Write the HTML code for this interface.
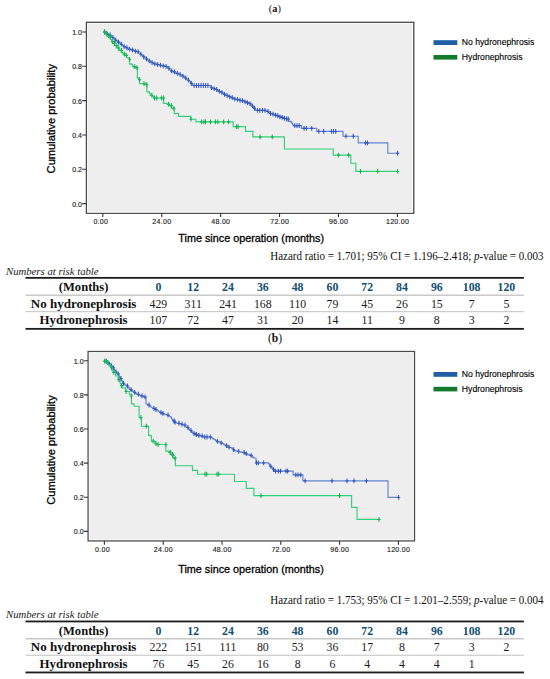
<!DOCTYPE html>
<html><head><meta charset="utf-8"><title>Kaplan-Meier</title>
<style>
html,body{margin:0;padding:0;background:#fff;}
body{width:550px;height:679px;overflow:hidden;position:relative;}
svg{position:absolute;left:0;top:0;}
.tk{font-family:"Liberation Sans",sans-serif;font-size:7px;fill:#1e1e1e;letter-spacing:0.3px;stroke:#1e1e1e;stroke-width:0.15px;}
.at{font-family:"Liberation Sans",sans-serif;font-size:10.7px;fill:#000;stroke:#000;stroke-width:0.28px;}
.lg{font-family:"Liberation Sans",sans-serif;font-size:8.2px;fill:#000;stroke:#000;stroke-width:0.12px;}
.ti{font-family:"Liberation Serif",serif;fill:#111;}
.hz{font-family:"Liberation Serif",serif;font-size:11.5px;fill:#111;}
.nr{font-family:"Liberation Serif",serif;font-size:10.6px;font-style:italic;fill:#222;}
.tl{font-family:"Liberation Serif",serif;font-size:11.6px;font-weight:bold;fill:#111;}
.th{font-family:"Liberation Serif",serif;font-size:11.8px;font-weight:bold;fill:#13506f;}
.td{font-family:"Liberation Serif",serif;font-size:11.8px;fill:#1a1a1a;}
</style></head><body>
<svg width="550" height="679" viewBox="0 0 550 679">
<text x="274.85" y="12.1" class="ti" font-size="10.4" text-anchor="middle">(<tspan font-weight="bold">a</tspan>)</text>
<rect x="86.40" y="22.30" width="327.40" height="191.00" fill="#eeeeee" stroke="#4a4a4a" stroke-width="1.3"/>
<rect x="87.60" y="23.50" width="325.00" height="188.60" fill="none" stroke="#fafafa" stroke-width="0.8"/>
<text x="81.90" y="35.00" class="tk" text-anchor="end" style="letter-spacing:0">1.0</text>
<text x="81.90" y="69.32" class="tk" text-anchor="end" style="letter-spacing:0">0.8</text>
<text x="81.90" y="103.64" class="tk" text-anchor="end" style="letter-spacing:0">0.6</text>
<text x="81.90" y="137.96" class="tk" text-anchor="end" style="letter-spacing:0">0.4</text>
<text x="81.90" y="172.28" class="tk" text-anchor="end" style="letter-spacing:0">0.2</text>
<text x="81.90" y="206.60" class="tk" text-anchor="end" style="letter-spacing:0">0.0</text>
<text x="100.85" y="223.90" class="tk" text-anchor="middle">0.00</text>
<text x="161.87" y="223.90" class="tk" text-anchor="middle">24.00</text>
<text x="220.79" y="223.90" class="tk" text-anchor="middle">48.00</text>
<text x="279.71" y="223.90" class="tk" text-anchor="middle">72.00</text>
<text x="338.63" y="223.90" class="tk" text-anchor="middle">96.00</text>
<text x="397.55" y="223.90" class="tk" text-anchor="middle">120.00</text>
<path d="M82.20 32.00H86.40M82.20 66.32H86.40M82.20 100.64H86.40M82.20 134.96H86.40M82.20 169.28H86.40M82.20 203.60H86.40M102.80 213.30V217.10M161.72 213.30V217.10M220.64 213.30V217.10M279.56 213.30V217.10M338.48 213.30V217.10M397.40 213.30V217.10" stroke="#333" stroke-width="1.1" fill="none"/>
<text transform="translate(55.30 118.70) rotate(-90)" x="0" y="0" class="at" text-anchor="middle" textLength="109.4" lengthAdjust="spacingAndGlyphs">Cumulative probability</text>
<text x="178.30" y="241.60" class="at" textLength="145.7" lengthAdjust="spacingAndGlyphs">Time since operation (months)</text>
<rect x="433.5" y="40.20" width="23.8" height="4.8" fill="#1e5fa6"/>
<rect x="433.5" y="55.00" width="23.8" height="4.6" fill="#127a2c"/>
<text x="461.8" y="44.50" class="lg" textLength="72.5" lengthAdjust="spacingAndGlyphs">No hydronephrosis</text>
<text x="461.8" y="60.00" class="lg" textLength="60.7" lengthAdjust="spacingAndGlyphs">Hydronephrosis</text>
<path d="M104.00 32.00L105.25 32.00L105.25 33.10L106.50 33.10L106.50 34.20L108.35 34.20L108.35 34.90L110.20 34.90L110.20 35.60L111.27 35.60L111.27 36.53L112.33 36.53L112.33 37.47L113.40 37.47L113.40 38.40L114.53 38.40L114.53 39.30L115.67 39.30L115.67 40.20L116.80 40.20L116.80 41.10L118.00 41.10L118.00 42.13L119.20 42.13L119.20 43.17L120.40 43.17L120.40 44.20L122.15 44.20L122.15 45.45L123.90 45.45L123.90 46.70L125.70 46.70L125.70 47.75L127.50 47.75L127.50 48.80L128.93 48.80L128.93 49.17L130.37 49.17L130.37 49.53L131.80 49.53L131.80 49.90L133.33 49.90L133.33 50.50L134.87 50.50L134.87 51.10L136.40 51.10L136.40 51.70L138.35 51.70L138.35 52.95L140.30 52.95L140.30 54.20L141.40 54.20L141.40 55.07L142.50 55.07L142.50 55.93L143.60 55.93L143.60 56.80L144.83 56.80L144.83 57.87L146.07 57.87L146.07 58.93L147.30 58.93L147.30 60.00L148.80 60.00L148.80 60.90L150.30 60.90L150.30 61.80L151.80 61.80L151.80 62.70L153.33 62.70L153.33 63.30L154.87 63.30L154.87 63.90L156.40 63.90L156.40 64.50L157.90 64.50L157.90 64.83L159.40 64.83L159.40 65.17L160.90 65.17L160.90 65.50L162.43 65.50L162.43 65.80L163.97 65.80L163.97 66.10L165.50 66.10L165.50 66.40L166.85 66.40L166.85 67.30L168.20 67.30L168.20 68.20L169.10 68.20L169.10 69.10L170.00 69.10L170.00 70.00L170.90 70.00L170.90 70.90L172.70 70.90L172.70 71.80L174.50 71.80L174.50 72.70L176.03 72.70L176.03 73.30L177.57 73.30L177.57 73.90L179.10 73.90L179.10 74.50L180.60 74.50L180.60 75.27L182.10 75.27L182.10 76.03L183.60 76.03L183.60 76.80L184.83 76.80L184.83 77.93L186.07 77.93L186.07 79.07L187.30 79.07L187.30 80.20L188.90 80.20L188.90 81.25L190.50 81.25L190.50 82.30L191.10 82.30L191.10 83.37L191.70 83.37L191.70 84.43L192.30 84.43L192.30 85.50L209.50 85.50L210.45 85.50L210.45 86.60L211.40 86.60L211.40 87.70L213.20 87.70L213.20 88.60L215.00 88.60L215.00 89.50L216.80 89.50L216.80 90.45L218.60 90.45L218.60 91.40L220.45 91.40L220.45 92.30L222.30 92.30L222.30 93.20L224.10 93.20L224.10 94.35L225.90 94.35L225.90 95.50L227.70 95.50L227.70 96.15L229.50 96.15L229.50 96.80L231.35 96.80L231.35 97.70L233.20 97.70L233.20 98.60L234.63 98.60L234.63 99.03L236.07 99.03L236.07 99.47L237.50 99.47L237.50 99.90L239.30 99.90L239.30 100.27L241.10 100.27L241.10 100.63L242.90 100.63L242.90 101.00L244.55 101.00L244.55 101.80L246.20 101.80L246.20 102.60L247.85 102.60L247.85 103.15L249.50 103.15L249.50 103.70L250.55 103.70L250.55 104.80L251.60 104.80L251.60 105.90L252.70 105.90L252.70 107.00L253.80 107.00L253.80 108.10L254.65 108.10L254.65 109.20L255.50 109.20L255.50 110.30L263.60 110.30L265.25 110.30L265.25 110.85L266.90 110.85L266.90 111.40L268.55 111.40L268.55 112.45L270.20 112.45L270.20 113.50L271.85 113.50L271.85 114.05L273.50 114.05L273.50 114.60L274.93 114.60L274.93 115.17L276.37 115.17L276.37 115.73L277.80 115.73L277.80 116.30L279.27 116.30L279.27 116.83L280.73 116.83L280.73 117.37L282.20 117.37L282.20 117.90L283.63 117.90L283.63 118.27L285.07 118.27L285.07 118.63L286.50 118.63L286.50 119.00L288.80 119.00L288.80 121.30L291.00 121.30L291.00 122.40L291.80 122.40L291.80 123.45L292.60 123.45L292.60 124.50L293.20 124.50L293.20 125.60L301.60 125.60L301.60 128.40L316.80 128.40L316.80 131.40L343.00 131.40L343.00 136.20L358.20 136.20L358.20 142.90L387.80 142.90L387.80 153.20L398.40 153.20" stroke="#6383cc" stroke-width="1.15" fill="none"/>
<path d="M104.50 29.60V34.40M102.90 32.00H106.10M107.30 31.80V36.60M105.70 34.20H108.90M110.10 32.50V37.30M108.50 34.90H111.70M112.90 35.07V39.87M111.30 37.47H114.50M115.70 37.80V42.60M114.10 40.20H117.30M118.50 39.73V44.53M116.90 42.13H120.10M121.30 41.80V46.60M119.70 44.20H122.90M124.10 44.30V49.10M122.50 46.70H125.70M126.90 45.35V50.15M125.30 47.75H128.50M129.70 46.77V51.57M128.10 49.17H131.30M132.50 47.50V52.30M130.90 49.90H134.10M135.30 48.70V53.50M133.70 51.10H136.90M138.10 49.30V54.10M136.50 51.70H139.70M140.90 51.80V56.60M139.30 54.20H142.50M143.70 54.40V59.20M142.10 56.80H145.30M146.50 56.53V61.33M144.90 58.93H148.10M149.30 58.50V63.30M147.70 60.90H150.90M152.10 60.30V65.10M150.50 62.70H153.70M154.90 61.50V66.30M153.30 63.90H156.50M157.70 62.10V66.90M156.10 64.50H159.30M160.50 62.77V67.57M158.90 65.17H162.10M163.30 63.40V68.20M161.70 65.80H164.90M166.10 64.00V68.80M164.50 66.40H167.70M168.90 65.80V70.60M167.30 68.20H170.50M171.70 68.50V73.30M170.10 70.90H173.30M174.50 69.40V74.20M172.90 71.80H176.10M177.30 70.90V75.70M175.70 73.30H178.90M180.10 72.10V76.90M178.50 74.50H181.70M182.90 73.63V78.43M181.30 76.03H184.50M185.70 75.53V80.33M184.10 77.93H187.30M188.50 77.80V82.60M186.90 80.20H190.10M191.30 80.97V85.77M189.70 83.37H192.90M194.10 83.10V87.90M192.50 85.50H195.70M196.40 83.10V87.90M194.80 85.50H198.00M198.70 83.10V87.90M197.10 85.50H200.30M201.00 83.10V87.90M199.40 85.50H202.60M203.30 83.10V87.90M201.70 85.50H204.90M205.60 83.10V87.90M204.00 85.50H207.20M207.90 83.10V87.90M206.30 85.50H209.50M211.50 85.30V90.10M209.90 87.70H213.10M214.10 86.20V91.00M212.50 88.60H215.70M216.70 87.10V91.90M215.10 89.50H218.30M219.30 89.00V93.80M217.70 91.40H220.90M221.90 89.90V94.70M220.30 92.30H223.50M224.50 91.95V96.75M222.90 94.35H226.10M227.10 93.10V97.90M225.50 95.50H228.70M229.70 94.40V99.20M228.10 96.80H231.30M232.30 95.30V100.10M230.70 97.70H233.90M234.90 96.63V101.43M233.30 99.03H236.50M237.50 97.07V101.87M235.90 99.47H239.10M240.00 97.87V102.67M238.40 100.27H241.60M242.50 98.23V103.03M240.90 100.63H244.10M245.10 99.40V104.20M243.50 101.80H246.70M247.50 100.20V105.00M245.90 102.60H249.10M250.00 101.30V106.10M248.40 103.70H251.60M252.50 103.50V108.30M250.90 105.90H254.10M254.50 105.70V110.50M252.90 108.10H256.10M257.60 107.90V112.70M256.00 110.30H259.20M259.80 107.90V112.70M258.20 110.30H261.40M262.50 107.90V112.70M260.90 110.30H264.10M265.00 107.90V112.70M263.40 110.30H266.60M268.00 109.00V113.80M266.40 111.40H269.60M270.50 111.10V115.90M268.90 113.50H272.10M273.00 111.65V116.45M271.40 114.05H274.60M275.60 112.77V117.57M274.00 115.17H277.20M277.80 113.33V118.13M276.20 115.73H279.40M280.00 114.43V119.23M278.40 116.83H281.60M282.20 114.97V119.77M280.60 117.37H283.80M284.40 115.87V120.67M282.80 118.27H286.00M286.60 116.60V121.40M285.00 119.00H288.20M288.20 116.60V121.40M286.60 119.00H289.80M294.80 123.20V128.00M293.20 125.60H296.40M297.00 123.20V128.00M295.40 125.60H298.60M299.20 123.20V128.00M297.60 125.60H300.80M304.10 126.00V130.80M302.50 128.40H305.70M306.30 126.00V130.80M304.70 128.40H307.90M311.70 126.00V130.80M310.10 128.40H313.30M318.80 129.00V133.80M317.20 131.40H320.40M323.70 129.00V133.80M322.10 131.40H325.30M331.40 129.00V133.80M329.80 131.40H333.00M333.50 129.00V133.80M331.90 131.40H335.10M335.70 129.00V133.80M334.10 131.40H337.30M346.00 133.80V138.60M344.40 136.20H347.60M353.30 133.80V138.60M351.70 136.20H354.90M365.60 140.50V145.30M364.00 142.90H367.20M367.50 140.50V145.30M365.90 142.90H369.10M397.60 150.80V155.60M396.00 153.20H399.20" stroke="#3358bd" stroke-width="1.05" fill="none"/>
<path d="M104.00 32.00L105.30 32.00L105.30 33.20L106.50 33.20L106.50 35.70L108.60 35.70L108.60 36.90L110.20 36.90L110.20 39.20L111.50 39.20L111.50 41.60L112.70 41.60L112.70 43.30L114.60 43.30L114.60 45.60L116.80 45.60L116.80 47.90L118.80 47.90L118.80 50.40L121.40 50.40L121.40 52.40L123.00 52.40L123.00 54.00L124.40 54.00L124.40 55.50L126.50 55.50L126.50 57.50L129.50 57.50L129.50 59.30L129.60 59.30L129.60 64.10L132.50 64.10L132.50 66.60L134.70 66.60L134.70 67.70L137.30 67.70L137.30 68.10L137.30 77.90L138.60 77.90L138.60 79.70L139.60 79.70L139.60 83.70L144.50 83.70L144.50 84.50L146.90 84.50L146.90 91.90L149.30 91.90L149.30 93.10L150.10 93.10L150.10 95.20L152.30 95.20L152.30 96.40L153.40 96.40L153.40 98.00L163.60 98.00L163.60 103.40L166.90 103.40L166.90 104.20L169.00 104.20L169.00 105.60L171.40 105.60L171.40 108.30L174.30 108.30L174.30 113.60L178.70 113.60L178.70 116.30L190.70 116.30L190.70 119.20L196.00 119.20L196.00 121.90L233.20 121.90L233.20 126.60L245.50 126.60L245.50 131.40L252.90 131.40L252.90 136.90L284.40 136.90L284.40 149.00L333.20 149.00L333.20 155.10L350.80 155.10L350.80 163.20L355.90 163.20L355.90 171.40L398.40 171.40" stroke="#33d07a" stroke-width="1.15" fill="none" stroke-linejoin="miter"/>
<path d="M104.60 29.60V34.40M103.00 32.00H106.20M106.50 30.80V35.60M104.90 33.20H108.10M108.60 33.30V38.10M107.00 35.70H110.20M110.20 34.50V39.30M108.60 36.90H111.80M112.70 39.20V44.00M111.10 41.60H114.30M114.60 40.90V45.70M113.00 43.30H116.20M116.80 43.20V48.00M115.20 45.60H118.40M118.80 45.50V50.30M117.20 47.90H120.40M121.40 48.00V52.80M119.80 50.40H123.00M124.40 51.60V56.40M122.80 54.00H126.00M126.50 53.10V57.90M124.90 55.50H128.10M129.60 56.90V61.70M128.00 59.30H131.20M134.70 64.20V69.00M133.10 66.60H136.30M137.00 65.30V70.10M135.40 67.70H138.60M139.60 77.30V82.10M138.00 79.70H141.20M144.00 81.30V86.10M142.40 83.70H145.60M146.70 82.10V86.90M145.10 84.50H148.30M151.80 92.80V97.60M150.20 95.20H153.40M154.60 95.60V100.40M153.00 98.00H156.20M156.70 95.60V100.40M155.10 98.00H158.30M161.60 95.60V100.40M160.00 98.00H163.20M163.60 95.60V100.40M162.00 98.00H165.20M168.60 101.80V106.60M167.00 104.20H170.20M171.40 103.20V108.00M169.80 105.60H173.00M173.90 105.90V110.70M172.30 108.30H175.50M191.00 116.80V121.60M189.40 119.20H192.60M201.50 119.50V124.30M199.90 121.90H203.10M203.90 119.50V124.30M202.30 121.90H205.50M205.50 119.50V124.30M203.90 121.90H207.10M210.50 119.50V124.30M208.90 121.90H212.10M215.40 119.50V124.30M213.80 121.90H217.00M217.80 119.50V124.30M216.20 121.90H219.40M223.60 119.50V124.30M222.00 121.90H225.20M228.50 119.50V124.30M226.90 121.90H230.10M236.40 124.20V129.00M234.80 126.60H238.00M238.00 124.20V129.00M236.40 126.60H239.60M260.10 134.50V139.30M258.50 136.90H261.70M272.30 134.50V139.30M270.70 136.90H273.90M338.40 152.70V157.50M336.80 155.10H340.00M348.50 152.70V157.50M346.90 155.10H350.10M360.50 169.00V173.80M358.90 171.40H362.10M377.70 169.00V173.80M376.10 171.40H379.30M397.60 169.00V173.80M396.00 171.40H399.20" stroke="#14b452" stroke-width="1.05" fill="none"/>
<text x="270.20" y="259.80" class="hz" textLength="273.4" lengthAdjust="spacingAndGlyphs">Hazard ratio = 1.701; 95% CI = 1.196–2.418; <tspan font-style="italic">p</tspan>-value = 0.003</text>
<text x="6" y="274.50" class="nr" textLength="92.6" lengthAdjust="spacingAndGlyphs">Numbers at risk table</text>
<rect x="25.5" y="276.95" width="498.4" height="1.8" fill="#1b1b1b"/>
<rect x="25.5" y="294.55" width="498.4" height="1.3" fill="#c0c0c0"/>
<rect x="25.5" y="311.10" width="498.4" height="1.1" fill="#c8c8c8"/>
<rect x="25.5" y="327.95" width="498.4" height="1.8" fill="#1b1b1b"/>
<text x="83.6" y="290.95" class="tl" text-anchor="middle" textLength="49.6" lengthAdjust="spacingAndGlyphs">(Months)</text>
<text x="83.6" y="307.55" class="tl" text-anchor="middle" textLength="105.5" lengthAdjust="spacingAndGlyphs">No hydronephrosis</text>
<text x="83.6" y="324.45" class="tl" text-anchor="middle" textLength="88.0" lengthAdjust="spacingAndGlyphs">Hydronephrosis</text>
<text x="158.40" y="290.95" class="th" text-anchor="middle">0</text>
<text x="193.20" y="290.95" class="th" text-anchor="middle">12</text>
<text x="228.00" y="290.95" class="th" text-anchor="middle">24</text>
<text x="262.80" y="290.95" class="th" text-anchor="middle">36</text>
<text x="297.60" y="290.95" class="th" text-anchor="middle">48</text>
<text x="332.40" y="290.95" class="th" text-anchor="middle">60</text>
<text x="367.20" y="290.95" class="th" text-anchor="middle">72</text>
<text x="402.00" y="290.95" class="th" text-anchor="middle">84</text>
<text x="436.80" y="290.95" class="th" text-anchor="middle">96</text>
<text x="471.60" y="290.95" class="th" text-anchor="middle">108</text>
<text x="506.40" y="290.95" class="th" text-anchor="middle">120</text>
<text x="158.40" y="307.55" class="td" text-anchor="middle">429</text>
<text x="193.20" y="307.55" class="td" text-anchor="middle">311</text>
<text x="228.00" y="307.55" class="td" text-anchor="middle">241</text>
<text x="262.80" y="307.55" class="td" text-anchor="middle">168</text>
<text x="297.60" y="307.55" class="td" text-anchor="middle">110</text>
<text x="332.40" y="307.55" class="td" text-anchor="middle">79</text>
<text x="367.20" y="307.55" class="td" text-anchor="middle">45</text>
<text x="402.00" y="307.55" class="td" text-anchor="middle">26</text>
<text x="436.80" y="307.55" class="td" text-anchor="middle">15</text>
<text x="471.60" y="307.55" class="td" text-anchor="middle">7</text>
<text x="506.40" y="307.55" class="td" text-anchor="middle">5</text>
<text x="158.40" y="324.45" class="td" text-anchor="middle">107</text>
<text x="193.20" y="324.45" class="td" text-anchor="middle">72</text>
<text x="228.00" y="324.45" class="td" text-anchor="middle">47</text>
<text x="262.80" y="324.45" class="td" text-anchor="middle">31</text>
<text x="297.60" y="324.45" class="td" text-anchor="middle">20</text>
<text x="332.40" y="324.45" class="td" text-anchor="middle">14</text>
<text x="367.20" y="324.45" class="td" text-anchor="middle">11</text>
<text x="402.00" y="324.45" class="td" text-anchor="middle">9</text>
<text x="436.80" y="324.45" class="td" text-anchor="middle">8</text>
<text x="471.60" y="324.45" class="td" text-anchor="middle">3</text>
<text x="506.40" y="324.45" class="td" text-anchor="middle">2</text>
<text x="275.0" y="342.2" class="ti" font-size="11.6" text-anchor="middle">(<tspan font-weight="bold">b</tspan>)</text>
<rect x="88.10" y="351.50" width="326.40" height="189.40" fill="#eeeeee" stroke="#4a4a4a" stroke-width="1.3"/>
<rect x="89.30" y="352.70" width="324.00" height="187.00" fill="none" stroke="#fafafa" stroke-width="0.8"/>
<text x="83.60" y="363.70" class="tk" text-anchor="end" style="letter-spacing:0">1.0</text>
<text x="83.60" y="397.84" class="tk" text-anchor="end" style="letter-spacing:0">0.8</text>
<text x="83.60" y="431.98" class="tk" text-anchor="end" style="letter-spacing:0">0.6</text>
<text x="83.60" y="466.12" class="tk" text-anchor="end" style="letter-spacing:0">0.4</text>
<text x="83.60" y="500.26" class="tk" text-anchor="end" style="letter-spacing:0">0.2</text>
<text x="83.60" y="534.40" class="tk" text-anchor="end" style="letter-spacing:0">0.0</text>
<text x="102.45" y="551.60" class="tk" text-anchor="middle">0.00</text>
<text x="163.35" y="551.60" class="tk" text-anchor="middle">24.00</text>
<text x="222.15" y="551.60" class="tk" text-anchor="middle">48.00</text>
<text x="280.95" y="551.60" class="tk" text-anchor="middle">72.00</text>
<text x="339.75" y="551.60" class="tk" text-anchor="middle">96.00</text>
<text x="398.55" y="551.60" class="tk" text-anchor="middle">120.00</text>
<path d="M83.90 360.70H88.10M83.90 394.84H88.10M83.90 428.98H88.10M83.90 463.12H88.10M83.90 497.26H88.10M83.90 531.40H88.10M104.40 540.90V544.70M163.20 540.90V544.70M222.00 540.90V544.70M280.80 540.90V544.70M339.60 540.90V544.70M398.40 540.90V544.70" stroke="#333" stroke-width="1.1" fill="none"/>
<text transform="translate(55.30 450.00) rotate(-90)" x="0" y="0" class="at" text-anchor="middle" textLength="109.4" lengthAdjust="spacingAndGlyphs">Cumulative probability</text>
<text x="178.20" y="572.90" class="at" textLength="145.7" lengthAdjust="spacingAndGlyphs">Time since operation (months)</text>
<rect x="433.5" y="372.00" width="23.8" height="4.8" fill="#1e5fa6"/>
<rect x="433.5" y="386.80" width="23.8" height="4.6" fill="#127a2c"/>
<text x="461.8" y="376.50" class="lg" textLength="72.5" lengthAdjust="spacingAndGlyphs">No hydronephrosis</text>
<text x="461.8" y="391.90" class="lg" textLength="60.7" lengthAdjust="spacingAndGlyphs">Hydronephrosis</text>
<path d="M104.50 361.20L106.50 361.20L106.50 362.60L107.90 362.60L107.90 363.85L109.30 363.85L109.30 365.10L110.50 365.10L110.50 366.00L111.70 366.00L111.70 366.90L112.90 366.90L112.90 367.80L113.58 367.80L113.58 368.82L114.25 368.82L114.25 369.85L114.92 369.85L114.92 370.88L115.60 370.88L115.60 371.90L116.53 371.90L116.53 372.97L117.47 372.97L117.47 374.03L118.40 374.03L118.40 375.10L119.08 375.10L119.08 376.23L119.75 376.23L119.75 377.35L120.42 377.35L120.42 378.48L121.10 378.48L121.10 379.60L121.64 379.60L121.64 380.52L122.18 380.52L122.18 381.44L122.72 381.44L122.72 382.36L123.26 382.36L123.26 383.28L123.80 383.28L123.80 384.20L125.03 384.20L125.03 385.10L126.27 385.10L126.27 386.00L127.50 386.00L127.50 386.90L128.40 386.90L128.40 387.80L129.30 387.80L129.30 388.70L130.20 388.70L130.20 389.60L131.10 389.60L131.10 390.50L132.30 390.50L132.30 391.43L133.50 391.43L133.50 392.37L134.70 392.37L134.70 393.30L136.55 393.30L136.55 394.20L138.40 394.20L138.40 395.10L140.20 395.10L140.20 395.80L142.00 395.80L142.00 396.50L144.00 396.50L144.00 396.95L146.00 396.95L146.00 397.40L146.00 404.00L147.50 404.00L147.50 405.00L149.00 405.00L149.00 406.00L151.00 406.00L151.00 407.25L153.00 407.25L153.00 408.50L155.00 408.50L155.00 409.50L157.00 409.50L157.00 410.50L158.33 410.50L158.33 411.50L159.67 411.50L159.67 412.50L161.00 412.50L161.00 413.50L163.00 413.50L163.00 414.00L165.00 414.00L165.00 414.50L166.50 414.50L166.50 415.00L168.00 415.00L168.00 415.50L169.50 415.50L169.50 416.50L171.00 416.50L171.00 417.50L171.50 417.50L171.50 418.38L172.00 418.38L172.00 419.25L172.50 419.25L172.50 420.12L173.00 420.12L173.00 421.00L174.00 421.00L174.00 422.00L175.00 422.00L175.00 423.00L177.00 423.00L177.00 423.25L179.00 423.25L179.00 423.50L181.00 423.50L181.00 424.25L183.00 424.25L183.00 425.00L185.00 425.00L185.00 426.25L187.00 426.25L187.00 427.50L188.00 427.50L188.00 428.50L189.00 428.50L189.00 429.50L190.00 429.50L190.00 430.50L191.00 430.50L191.00 431.50L192.00 431.50L192.00 432.50L193.50 432.50L193.50 433.50L195.00 433.50L195.00 434.50L196.83 434.50L196.83 434.97L198.67 434.97L198.67 435.43L200.50 435.43L200.50 435.90L202.60 435.90L202.60 437.00L210.30 437.00L211.40 437.00L211.40 437.80L212.50 437.80L212.50 438.60L213.93 438.60L213.93 439.53L215.37 439.53L215.37 440.47L216.80 440.47L216.80 441.40L218.63 441.40L218.63 442.10L220.47 442.10L220.47 442.80L222.30 442.80L222.30 443.50L223.73 443.50L223.73 444.60L225.17 444.60L225.17 445.70L226.60 445.70L226.60 446.80L228.07 446.80L228.07 447.17L229.53 447.17L229.53 447.53L231.00 447.53L231.00 447.90L232.10 447.90L232.10 448.80L233.20 448.80L233.20 449.70L234.30 449.70L234.30 450.60L235.73 450.60L235.73 450.97L237.17 450.97L237.17 451.33L238.60 451.33L238.60 451.70L240.43 451.70L240.43 452.07L242.27 452.07L242.27 452.43L244.10 452.43L244.10 452.80L245.45 452.80L245.45 453.65L246.80 453.65L246.80 454.50L248.23 454.50L248.23 454.93L249.67 454.93L249.67 455.37L251.10 455.37L251.10 455.80L252.20 455.80L252.20 456.90L253.30 456.90L253.30 458.00L256.00 458.00L256.00 462.90L268.00 462.90L268.73 462.90L268.73 464.00L269.47 464.00L269.47 465.10L270.20 465.10L270.20 466.20L271.10 466.20L271.10 467.30L272.00 467.30L272.00 468.40L272.90 468.40L272.90 469.50L273.50 469.50L273.50 471.10L293.10 471.10L293.10 474.90L302.90 474.90L302.90 480.80L388.00 480.80L388.00 497.40L399.00 497.40" stroke="#6383cc" stroke-width="1.15" fill="none"/>
<path d="M105.00 358.80V363.60M103.40 361.20H106.60M107.50 360.20V365.00M105.90 362.60H109.10M109.30 361.45V366.25M107.70 363.85H110.90M111.50 363.60V368.40M109.90 366.00H113.10M113.50 365.40V370.20M111.90 367.80H115.10M116.00 369.50V374.30M114.40 371.90H117.60M118.40 371.63V376.43M116.80 374.03H120.00M121.00 376.08V380.88M119.40 378.48H122.60M123.50 380.88V385.68M121.90 383.28H125.10M127.50 383.60V388.40M125.90 386.00H129.10M131.10 387.20V392.00M129.50 389.60H132.70M134.70 389.97V394.77M133.10 392.37H136.30M138.40 391.80V396.60M136.80 394.20H140.00M142.00 393.40V398.20M140.40 395.80H143.60M145.00 394.55V399.35M143.40 396.95H146.60M149.00 402.60V407.40M147.40 405.00H150.60M154.00 406.10V410.90M152.40 408.50H155.60M156.00 407.10V411.90M154.40 409.50H157.60M161.00 410.10V414.90M159.40 412.50H162.60M163.00 411.10V415.90M161.40 413.50H164.60M168.00 412.60V417.40M166.40 415.00H169.60M174.00 418.60V423.40M172.40 421.00H175.60M175.00 419.60V424.40M173.40 422.00H176.60M179.00 420.85V425.65M177.40 423.25H180.60M182.00 421.85V426.65M180.40 424.25H183.60M185.00 422.60V427.40M183.40 425.00H186.60M188.00 425.10V429.90M186.40 427.50H189.60M191.00 428.10V432.90M189.40 430.50H192.60M194.00 431.10V435.90M192.40 433.50H195.60M196.10 432.10V436.90M194.50 434.50H197.70M196.50 432.10V436.90M194.90 434.50H198.10M198.80 433.03V437.83M197.20 435.43H200.40M199.00 433.03V437.83M197.40 435.43H200.60M202.10 433.50V438.30M200.50 435.90H203.70M204.80 434.60V439.40M203.20 437.00H206.40M207.00 434.60V439.40M205.40 437.00H208.60M210.30 434.60V439.40M208.70 437.00H211.90M217.40 439.00V443.80M215.80 441.40H219.00M221.20 440.40V445.20M219.60 442.80H222.80M226.60 443.30V448.10M225.00 445.70H228.20M229.00 444.77V449.57M227.40 447.17H230.60M233.70 447.30V452.10M232.10 449.70H235.30M238.60 448.93V453.73M237.00 451.33H240.20M244.10 450.03V454.83M242.50 452.43H245.70M246.30 451.25V456.05M244.70 453.65H247.90M251.10 452.97V457.77M249.50 455.37H252.70M256.50 460.50V465.30M254.90 462.90H258.10M258.20 460.50V465.30M256.60 462.90H259.80M263.60 460.50V465.30M262.00 462.90H265.20M270.70 463.80V468.60M269.10 466.20H272.30M273.50 467.10V471.90M271.90 469.50H275.10M275.60 468.70V473.50M274.00 471.10H277.20M278.40 468.70V473.50M276.80 471.10H280.00M280.50 468.70V473.50M278.90 471.10H282.10M286.00 468.70V473.50M284.40 471.10H287.60M287.60 468.70V473.50M286.00 471.10H289.20M295.80 472.50V477.30M294.20 474.90H297.40M298.00 472.50V477.30M296.40 474.90H299.60M300.70 472.50V477.30M299.10 474.90H302.30M305.10 478.40V483.20M303.50 480.80H306.70M332.00 478.40V483.20M330.40 480.80H333.60M347.00 478.40V483.20M345.40 480.80H348.60M354.00 478.40V483.20M352.40 480.80H355.60M366.40 478.40V483.20M364.80 480.80H368.00M398.60 495.00V499.80M397.00 497.40H400.20" stroke="#3358bd" stroke-width="1.05" fill="none"/>
<path d="M104.50 361.20L106.50 361.20L106.50 362.40L107.90 362.40L107.90 364.60L109.30 364.60L109.30 366.00L111.10 366.00L111.10 367.80L112.00 367.80L112.00 370.00L112.90 370.00L112.90 372.40L115.60 372.40L115.60 376.00L118.40 376.00L118.40 379.60L119.30 379.60L119.30 381.50L120.20 381.50L120.20 383.30L121.20 383.30L121.20 385.60L122.00 385.60L122.00 387.80L125.60 387.80L125.60 391.50L129.30 391.50L129.30 394.20L131.30 394.20L131.30 396.00L131.40 396.00L131.40 403.90L134.10 403.90L134.10 406.20L139.10 406.20L139.10 417.50L141.40 417.50L141.40 426.20L148.60 426.20L148.60 435.30L150.90 435.30L150.90 435.70L151.40 435.70L151.40 441.20L153.20 441.20L155.00 441.20L155.00 443.50L156.40 443.50L156.40 444.50L165.90 444.50L165.90 451.10L168.50 451.10L168.50 452.10L170.20 452.10L170.20 454.30L172.40 454.30L172.40 455.40L172.90 455.40L172.90 458.10L175.40 458.10L175.40 465.70L192.50 465.70L192.50 470.30L197.50 470.30L197.50 474.20L234.50 474.20L234.50 481.50L246.30 481.50L246.30 488.40L253.90 488.40L253.90 495.60L351.60 495.60L351.60 507.40L357.00 507.40L357.00 519.40L379.00 519.40" stroke="#33d07a" stroke-width="1.15" fill="none" stroke-linejoin="miter"/>
<path d="M104.80 358.80V363.60M103.20 361.20H106.40M106.50 358.80V363.60M104.90 361.20H108.10M107.90 360.00V364.80M106.30 362.40H109.50M111.50 365.40V370.20M109.90 367.80H113.10M113.80 370.00V374.80M112.20 372.40H115.40M118.80 377.20V382.00M117.20 379.60H120.40M121.50 383.20V388.00M119.90 385.60H123.10M126.10 389.10V393.90M124.50 391.50H127.70M131.40 393.60V398.40M129.80 396.00H133.00M140.90 415.10V419.90M139.30 417.50H142.50M146.40 423.80V428.60M144.80 426.20H148.00M153.20 438.80V443.60M151.60 441.20H154.80M155.90 441.10V445.90M154.30 443.50H157.50M158.20 442.10V446.90M156.60 444.50H159.80M165.90 442.10V446.90M164.30 444.50H167.50M170.20 449.70V454.50M168.60 452.10H171.80M172.40 451.90V456.70M170.80 454.30H174.00M172.90 453.00V457.80M171.30 455.40H174.50M175.10 455.70V460.50M173.50 458.10H176.70M205.10 471.80V476.60M203.50 474.20H206.70M206.70 471.80V476.60M205.10 474.20H208.30M217.10 471.80V476.60M215.50 474.20H218.70M218.70 471.80V476.60M217.10 474.20H220.30M261.00 493.20V498.00M259.40 495.60H262.60M339.60 493.20V498.00M338.00 495.60H341.20M379.00 517.00V521.80M377.40 519.40H380.60" stroke="#14b452" stroke-width="1.05" fill="none"/>
<text x="270.20" y="603.80" class="hz" textLength="273.4" lengthAdjust="spacingAndGlyphs">Hazard ratio = 1.753; 95% CI = 1.201–2.559; <tspan font-style="italic">p</tspan>-value = 0.004</text>
<text x="6" y="618.00" class="nr" textLength="92.6" lengthAdjust="spacingAndGlyphs">Numbers at risk table</text>
<rect x="25.5" y="620.55" width="498.4" height="1.8" fill="#1b1b1b"/>
<rect x="25.5" y="638.15" width="498.4" height="1.3" fill="#c0c0c0"/>
<rect x="25.5" y="654.70" width="498.4" height="1.1" fill="#c8c8c8"/>
<rect x="25.5" y="671.55" width="498.4" height="1.8" fill="#1b1b1b"/>
<text x="83.6" y="634.55" class="tl" text-anchor="middle" textLength="49.6" lengthAdjust="spacingAndGlyphs">(Months)</text>
<text x="83.6" y="651.15" class="tl" text-anchor="middle" textLength="105.5" lengthAdjust="spacingAndGlyphs">No hydronephrosis</text>
<text x="83.6" y="668.05" class="tl" text-anchor="middle" textLength="88.0" lengthAdjust="spacingAndGlyphs">Hydronephrosis</text>
<text x="158.40" y="634.55" class="th" text-anchor="middle">0</text>
<text x="193.20" y="634.55" class="th" text-anchor="middle">12</text>
<text x="228.00" y="634.55" class="th" text-anchor="middle">24</text>
<text x="262.80" y="634.55" class="th" text-anchor="middle">36</text>
<text x="297.60" y="634.55" class="th" text-anchor="middle">48</text>
<text x="332.40" y="634.55" class="th" text-anchor="middle">60</text>
<text x="367.20" y="634.55" class="th" text-anchor="middle">72</text>
<text x="402.00" y="634.55" class="th" text-anchor="middle">84</text>
<text x="436.80" y="634.55" class="th" text-anchor="middle">96</text>
<text x="471.60" y="634.55" class="th" text-anchor="middle">108</text>
<text x="506.40" y="634.55" class="th" text-anchor="middle">120</text>
<text x="158.40" y="651.15" class="td" text-anchor="middle">222</text>
<text x="193.20" y="651.15" class="td" text-anchor="middle">151</text>
<text x="228.00" y="651.15" class="td" text-anchor="middle">111</text>
<text x="262.80" y="651.15" class="td" text-anchor="middle">80</text>
<text x="297.60" y="651.15" class="td" text-anchor="middle">53</text>
<text x="332.40" y="651.15" class="td" text-anchor="middle">36</text>
<text x="367.20" y="651.15" class="td" text-anchor="middle">17</text>
<text x="402.00" y="651.15" class="td" text-anchor="middle">8</text>
<text x="436.80" y="651.15" class="td" text-anchor="middle">7</text>
<text x="471.60" y="651.15" class="td" text-anchor="middle">3</text>
<text x="506.40" y="651.15" class="td" text-anchor="middle">2</text>
<text x="158.40" y="668.05" class="td" text-anchor="middle">76</text>
<text x="193.20" y="668.05" class="td" text-anchor="middle">45</text>
<text x="228.00" y="668.05" class="td" text-anchor="middle">26</text>
<text x="262.80" y="668.05" class="td" text-anchor="middle">16</text>
<text x="297.60" y="668.05" class="td" text-anchor="middle">8</text>
<text x="332.40" y="668.05" class="td" text-anchor="middle">6</text>
<text x="367.20" y="668.05" class="td" text-anchor="middle">4</text>
<text x="402.00" y="668.05" class="td" text-anchor="middle">4</text>
<text x="436.80" y="668.05" class="td" text-anchor="middle">4</text>
<text x="471.60" y="668.05" class="td" text-anchor="middle">1</text>
</svg>
</body></html>
